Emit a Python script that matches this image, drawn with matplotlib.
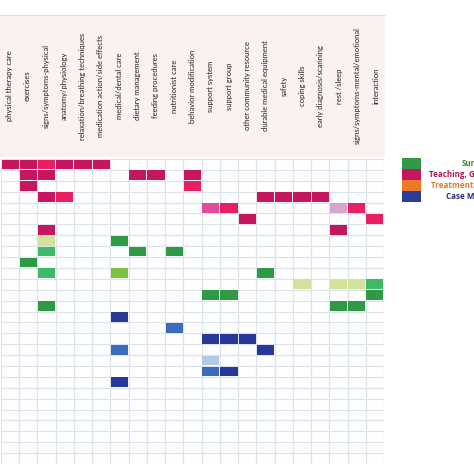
import matplotlib.pyplot as plt
from matplotlib.patches import Rectangle

# column headers (interventions)
columns = ["physical therapy care", "exercises", "signs/symptoms-physical",
           "anatomy/physiology", "relaxation/breathing techniques",
           "medication action/side effects", "medical/dental care",
           "dietary management", "feeding procedures", "nutritionist care",
           "behavior modification", "support system", "support group",
           "other community resource", "durable medical equipment", "safety",
           "coping skills", "early diagnosis/scanning", "rest /sleep",
           "signs/symptoms-mental/emotional", "interaction"]
n_rows = 28

# coloured cells: row, column, shade code
cell_rows = [0, 0, 0, 0, 0, 0,
             1, 1, 1, 1, 1,
             2, 2,
             3, 3, 3, 3, 3, 3,
             4, 4, 4, 4,
             5, 5,
             6, 6,
             7, 7,
             8, 8, 8,
             9,
             10, 10, 10,
             11, 11, 11, 11,
             12, 12, 12,
             13, 13, 13,
             14, 15, 16, 16, 16, 17, 17, 18, 19, 19, 20]
cell_cols = [0, 1, 2, 3, 4, 5,
             1, 2, 7, 8, 10,
             1, 10,
             2, 3, 14, 15, 16, 17,
             11, 12, 18, 19,
             13, 20,
             2, 18,
             2, 6,
             2, 7, 9,
             1,
             2, 6, 14,
             16, 18, 19, 20,
             11, 12, 20,
             2, 18, 19,
             6, 9, 11, 12, 13, 6, 14, 11, 11, 12, 6]
cell_codes = ["m", "m", "p", "m", "m", "m",
              "m", "m", "m", "m", "m",
              "m", "p",
              "m", "p", "m", "m", "m", "m",
              "pl", "p", "lav", "p",
              "m", "p",
              "m", "m",
              "gy", "g",
              "gm", "g", "g",
              "g",
              "gm", "gl", "g",
              "gy", "gy", "gy", "gm",
              "g", "g", "g",
              "g", "g", "g",
              "b", "bm", "b", "b", "b", "bm", "b", "bl", "bm", "b", "b"]

legend_labels = ["Surveillance", "Teaching, Guidance, and Counseling",
                 "Treatments and Procedures", "Case Management"]

shade = {"m": "#c5165f", "p": "#e91e63", "pl": "#e04a9c", "lav": "#d6a6cc",
         "g": "#2f9a46", "gm": "#3dba68", "gl": "#7cc243", "gy": "#d3e29b",
         "b": "#26399a", "bm": "#3b6bba", "bl": "#b2cae6"}
legend_colors = ["#2f9a46", "#c5165f", "#ea7a25", "#2b3c99"]
text_colors = ["#3a8a3a", "#b0185a", "#e07a20", "#2a2a7a"]

W = H = 474
fig = plt.figure(figsize=(4.74, 4.74), dpi=100)

# header panel
hx0, hx1, hy0, hy1 = 0, 385, 15, 157
hax = fig.add_axes([hx0 / W, 1 - hy1 / H, (hx1 - hx0) / W, (hy1 - hy0) / H])
hax.set_xlim(0, len(columns))
hax.set_ylim(0, 1)
hax.set_facecolor("#f9f2ef")
for s in hax.spines.values():
    s.set_visible(False)
hax.spines["top"].set_visible(True)
hax.spines["top"].set_color("#e2dedc")
hax.set_xticks([])
hax.set_yticks([])
for i, name in enumerate(columns):
    hax.text(i + 0.5, 0.5, name, rotation=90, ha="center", va="center",
             fontsize=5.5, family="Lato", color="#222222")

# grid
gx0, gx1, gy0, gy1 = 1, 384, 159, 464
ax = fig.add_axes([gx0 / W, 1 - gy1 / H, (gx1 - gx0) / W, (gy1 - gy0) / H])
ax.set_xlim(0, len(columns))
ax.set_ylim(n_rows, 0)
ax.set_xticks([])
ax.set_yticks([])
for s in ax.spines.values():
    s.set_visible(False)
for c in range(len(columns) + 1):
    ax.axvline(c, color="#dbe3ec", lw=0.9, zorder=1)
for r in range(n_rows + 1):
    ax.axhline(r, color="#dbe3ec", lw=0.9, zorder=1)

ax.bar([c + 0.5 for c in cell_cols], [0.9] * len(cell_rows),
       bottom=[r + 0.05 for r in cell_rows], width=0.94,
       color=[shade[k] for k in cell_codes], edgecolor="none", zorder=2)

# legend (its labels run past the right edge, as in the original)
lx0, lx1, ly0, lh = 402, 421, 158, 11
for i, col in enumerate(legend_colors):
    y = ly0 + i * lh
    fig.patches.append(Rectangle((lx0 / W, 1 - (y + lh) / H), (lx1 - lx0) / W, lh / H,
                                 transform=fig.transFigure, facecolor=col,
                                 edgecolor="none"))
text_x = [462, 429, 431, 446]
for i, (lab, tc) in enumerate(zip(legend_labels, text_colors)):
    fig.text(text_x[i] / W, 1 - (ly0 + i * lh + lh / 2) / H, lab, ha="left",
             va="center", fontsize=5.8, fontweight="bold", family="Open Sans",
             color=tc)

fig.savefig("out.png", dpi=100)
